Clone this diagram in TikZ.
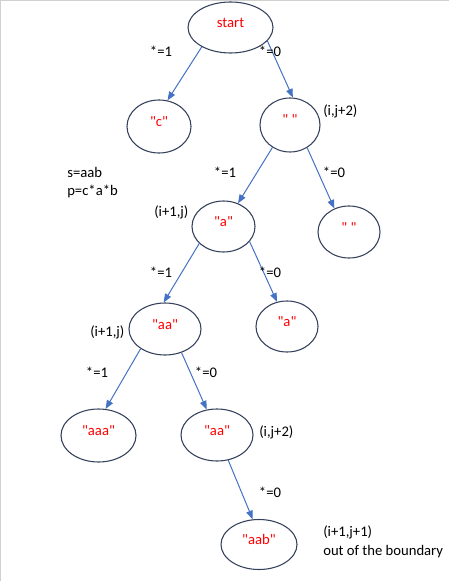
\documentclass[tikz,border=0pt]{standalone}
\usepackage{fontspec}
\newfontfamily\calfont{Carlito}
\usetikzlibrary{shapes.geometric,arrows.meta}
\definecolor{edgeblue}{HTML}{4472C4}
\definecolor{ringnavy}{HTML}{34405C}
\definecolor{txtred}{HTML}{FF0000}
\definecolor{framegray}{HTML}{D0D0D0}
\begin{document}
\begin{tikzpicture}[x=0.75pt,y=-0.75pt,
  bubble/.style={ellipse,draw=ringnavy,line width=0.8pt,inner sep=0pt,text=txtred,
    font=\calfont\fontsize{11}{13}\selectfont,text height=6pt,text depth=6pt},
  tag/.style={font=\calfont\fontsize{11}{13}\selectfont,inner sep=0pt,anchor=base},
  tagw/.style={tag,anchor=base west},
  link/.style={draw=edgeblue,line width=0.75pt,-{Triangle[length=6.5pt,width=5pt]}}]
\useasboundingbox (0,0) rectangle (449,581);
\fill[white] (0,0) rectangle (449,581);
\draw[framegray,line width=1pt] (0.5,581) -- (0.5,0.5) -- (449,0.5);

% nodes
\node[bubble,minimum width=63.75pt,minimum height=38.25pt] (start) at (230.5,27.5) {start};
\node[bubble,minimum width=48pt,minimum height=39.75pt] (c) at (159,126.5) {"c"};
\node[bubble,minimum width=45pt,minimum height=40.5pt] (e1) at (290,125) {" "};
\node[bubble,minimum width=47.25pt,minimum height=38.25pt] (a1) at (223.5,226.5) {"a"};
\node[bubble,minimum width=46.5pt,minimum height=39pt] (e2) at (349,232) {" "};
\node[bubble,minimum width=54pt,minimum height=39pt] (aa1) at (165,329) {"aa"};
\node[bubble,minimum width=46.5pt,minimum height=38.25pt] (a2) at (287,326.5) {"a"};
\node[bubble,minimum width=56.25pt,minimum height=39.75pt] (aaa) at (98.5,435.5) {"aaa"};
\node[bubble,minimum width=54pt,minimum height=39pt] (aa2) at (217,435) {"aa"};
\node[bubble,minimum width=57pt,minimum height=37.5pt] (aab) at (259,544.5) {"aab"};

% connectors
\draw[link] (start.214) -- (c.72);
\draw[link] (start.340) -- (e1.84);
\draw[link] (e1.232) -- (a1.58);
\draw[link] (e1.307) -- (e2.122);
\draw[link] (a1.215) -- (aa1.93);
\draw[link] (a1.330) -- (a2.112);
\draw[link] (aa1.219) -- (aaa.75);
\draw[link] (aa1.305) -- (aa2.112);
\draw[link] (aa2.294) -- (aab.104);

% labels
\node[tag] (l1) at (161,57) {*=1};
\node[tag] (l2) at (270,57) {*=0};
\node[tagw] (p1) at (323,116) {(i,j+2)};
\node[tagw] (s1) at (67,177) {s=aab};
\node[tagw] (s2) at (67,195) {p=c*a*b};
\node[tag] (l3) at (225,177) {*=1};
\node[tag] (l4) at (334,177) {*=0};
\node[tagw] (p2) at (154,216) {(i+1,j)};
\node[tag] (l5) at (161,277) {*=1};
\node[tag] (l6) at (270,277) {*=0};
\node[tagw] (p3) at (90,336) {(i+1,j)};
\node[tag] (l7) at (97,377) {*=1};
\node[tag] (l8) at (206,377) {*=0};
\node[tagw] (p4) at (259,436) {(i,j+2)};
\node[tag] (l9) at (270,497) {*=0};
\node[tagw] (p5) at (323,536) {(i+1,j+1)};
\node[tagw] (p6) at (323,555) {out of the boundary};
\end{tikzpicture}
\end{document}
